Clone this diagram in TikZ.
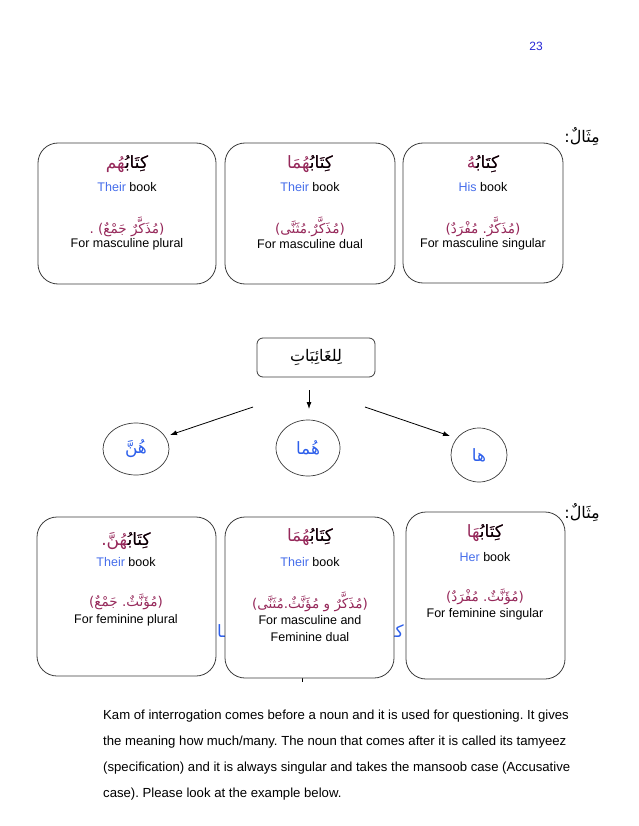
\documentclass[tikz,border=0pt]{standalone}
\usepackage{fontspec}
\setmainfont{Liberation Sans}
\newfontfamily\arfont[Script=Arabic]{DejaVu Sans}
\TeXXeTstate=1
\frenchspacing
\usetikzlibrary{arrows.meta,shapes.geometric}
\definecolor{mar}{RGB}{150,40,90}
\definecolor{eng}{RGB}{70,110,235}
\definecolor{ebl}{RGB}{45,95,235}
\definecolor{pnum}{RGB}{40,40,215}
\definecolor{edge}{RGB}{60,60,60}
\newcommand{\zj}{\char"200D}
\newcommand{\ar}[1]{{\arfont\beginR #1\endR}}
\tikzset{
  card/.style={draw=edge, line width=0.8pt, rounded corners=20pt, fill=white, inner sep=0pt},
  word/.style={inner sep=0pt, font=\fontsize{17}{19}\selectfont},
  eng/.style={inner sep=0pt, font=\fontsize{12.5}{17}\selectfont},
  par/.style={inner sep=0pt, text=mar, font=\fontsize{13.5}{15}\selectfont},
  oval/.style={draw=edge, line width=0.7pt, ellipse, inner sep=0pt, text=ebl, font=\fontsize{17}{19}\selectfont},
  arr/.style={line width=0.8pt, -{Latex[length=7pt,width=5pt]}},
  body/.style={inner sep=0pt, anchor=west, font=\fontsize{13.15}{15}\selectfont},
}
% full word in maroon, black stem overlaid on its right part
\newcommand{\kword}[4]{%
  \node[word, text=mar] (#1) at (#2,#3) {\ar{كِتَابُ#4}};
  \node[word, anchor=base east] (#1k) at (#1.base east) {\ar{كِتَابُ\zj}};
}
\begin{document}
\begin{tikzpicture}[x=1pt,y=-1pt]
\useasboundingbox (0,0) rectangle (638,826);
\fill[white] (0,0) rectangle (638,826);
% page number
\node[inner sep=0pt, text=pnum, font=\fontsize{12}{14}\selectfont] (pg) at (536,46) {23};
% mithal labels
\node[inner sep=0pt, font=\fontsize{16}{18}\selectfont] (m1) at (582,137) {\ar{مِثَالٌ:}};
\node[inner sep=0pt, font=\fontsize{16}{18}\selectfont] (m2) at (582,513) {\ar{مِثَالٌ:}};

% top cards
\node[card, minimum width=178pt, minimum height=141pt] (b1) at (127,213.5) {};
\node[card, minimum width=170pt, minimum height=141pt] (b2) at (310,213.5) {};
\node[card, minimum width=160pt, minimum height=140pt] (b3) at (483,213) {};

\kword{w1}{127}{164}{هُم}
\node[eng] (e1) at (127,187) {\textcolor{eng}{Their} book};
\node[par] (p1) at (127,227) {\ar{(مُذَكَّرٌ جَمْعٌ) .}};
\node[eng] (f1) at (127,244) {For masculine plural};

\kword{w2}{310}{164}{هُمَا}
\node[eng] (e2) at (310,187) {\textcolor{eng}{Their} book};
\node[par] (p2) at (310,227) {\ar{(مُذَكَّرٌ.مُثَنَّى)}};
\node[eng] (f2) at (310,244) {For masculine dual};

\kword{w3}{483}{164}{هُ}
\node[eng] (e3) at (483,187) {\textcolor{eng}{His} book};
\node[par] (p3) at (483,227) {\ar{(مُذَكَّرٌ. مُفْرَدٌ)}};
\node[eng] (f3) at (483,244) {For masculine singular};

% middle diagram
\node[draw=edge, line width=0.8pt, rounded corners=6pt, minimum width=118pt, minimum height=39pt, inner sep=0pt, font=\fontsize{16}{18}\selectfont] (g) at (316,357.5) {\ar{لِلغَائِبَاتِ}};
\node[oval, minimum width=66pt, minimum height=52pt] (o1) at (136,449) {\ar{هُنَّ}};
\node[oval, minimum width=64pt, minimum height=56pt] (o2) at (308,448) {\ar{هُما}};
\node[oval, minimum width=56pt, minimum height=54pt] (o3) at (479,455) {\ar{ها}};
\coordinate (d1) at (309,390);
\coordinate (d2) at (309,409);
\coordinate (l1) at (253,407);
\coordinate (l2) at (170,435);
\coordinate (r1) at (365,407);
\coordinate (r2) at (450,436);
\draw[arr] (d1) -- (d2);
\draw[arr] (l1) -- (l2);
\draw[arr] (r1) -- (r2);

% hidden blue line fragments
\node[inner sep=0pt, text=ebl, font=\fontsize{17}{19}\selectfont, anchor=east] (h1) at (404,631) {\ar{كــ}};
\node[inner sep=0pt, text=ebl, font=\fontsize{17}{19}\selectfont, anchor=west] (h2) at (217,631) {\ar{ــا}};
\coordinate (t1) at (302,676);
\coordinate (t2) at (302,682);
\draw[line width=0.7pt] (t1) -- (t2);

% bottom cards
\node[card, minimum width=179pt, minimum height=159pt] (b4) at (126.5,596.5) {};
\node[card, minimum width=169pt, minimum height=161pt] (b5) at (309.5,597.5) {};
\node[card, minimum width=159pt, minimum height=167pt] (b6) at (485.5,595.5) {};

\kword{w4}{126}{541}{هُنَّ.}
\node[eng] (e4) at (126,562) {\textcolor{eng}{Their} book};
\node[par] (p4) at (126,602) {\ar{(مُؤَنَّثٌ. جَمْعٌ)}};
\node[eng] (f4) at (126,620) {For feminine plural};

\kword{w5}{310}{537}{هُمَا}
\node[eng] (e5) at (310,562) {\textcolor{eng}{Their} book};
\node[par] (p5) at (310,602) {\ar{(مُذَكَّرٌ و مُؤَنَّثٌ.مُثَنَّى)}};
\node[eng, align=center] (f5) at (310,629) {For masculine and\\Feminine dual};

\kword{w6}{485}{533}{هَا}
\node[eng] (e6) at (485,557) {\textcolor{eng}{Her} book};
\node[par] (p6) at (485,597) {\ar{(مُؤَنَّثٌ. مُفْرَدٌ)}};
\node[eng] (f6) at (485,614) {For feminine singular};

% paragraph
\node[body] (l1t) at (103,716) {Kam of interrogation comes before a noun and it is used for questioning. It gives};
\node[body] (l2t) at (103,742) {the meaning how much/many. The noun that comes after it is called its tamyeez};
\node[body] (l3t) at (103,768) {(specification) and it is always singular and takes the mansoob case (Accusative};
\node[body] (l4t) at (103,794) {case). Please look at the example below.};
\end{tikzpicture}
\end{document}
